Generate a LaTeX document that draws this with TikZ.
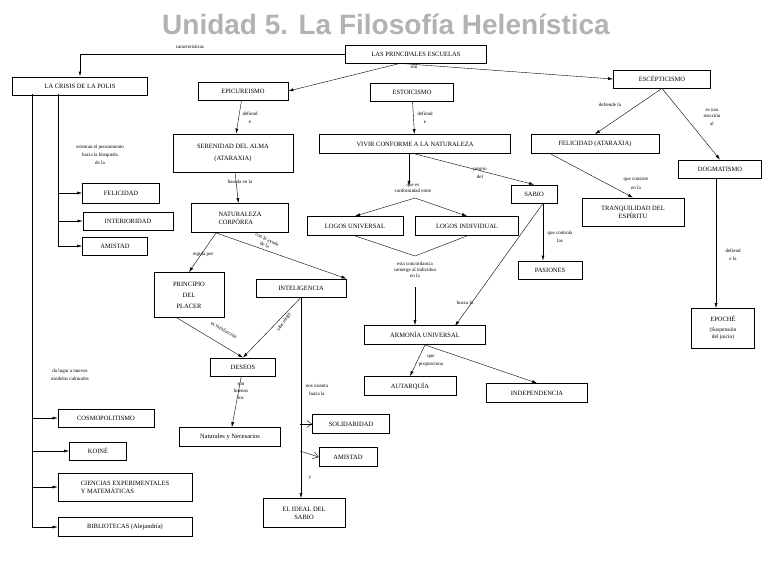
\documentclass[tikz,border=0pt]{standalone}
\usepackage{fontspec}
\setmainfont{Liberation Serif}
\newfontfamily\titlefont{Liberation Sans}
\usetikzlibrary{arrows.meta}
\tikzset{
	caja/.style={draw,thick,inner sep=1pt,align=center,font=\fontsize{6.5}{8}\selectfont},
	etq/.style={inner sep=0.5pt,align=center,font=\fontsize{5}{6}\selectfont},
	flecha/.style={-{Latex[length=5pt,width=3pt]}},
	abierta/.style={-{Straight Barb[length=5pt,width=7pt]}},
}
\begin{document}
\begin{tikzpicture}[x=1pt,y=-1pt]
	\useasboundingbox (0,0) rectangle (768,576);
	\node[font=\titlefont\bfseries\fontsize{28}{28}\selectfont,text=gray!60] (titulo) at (386,24) {Unidad 5. La Filosofía Helenística};
	% cajas
	\node[caja,minimum width=141,minimum height=18] (escuelas) at (416,54) {LAS PRINCIPALES ESCUELAS};
	\node[caja,minimum width=135,minimum height=18] (crisis) at (80,86) {LA CRISIS DE LA POLIS};
	\node[caja,minimum width=90,minimum height=18] (epicureismo) at (243,91) {EPICUREISMO};
	\node[caja,minimum width=83,minimum height=18] (estoicismo) at (412,92) {ESTOICISMO};
	\node[caja,minimum width=97,minimum height=18] (escepticismo) at (662,79) {ESCÉPTICISMO};
	\node[caja,minimum width=120,minimum height=38] (serenidad) at (233,153) {SERENIDAD DEL ALMA\\[4pt](ATARAXIA)};
	\node[caja,minimum width=191,minimum height=19] (vivir) at (415,144) {VIVIR CONFORME A LA NATURALEZA};
	\node[caja,minimum width=128,minimum height=19] (felataraxia) at (595,144) {FELICIDAD (ATARAXIA)};
	\node[caja,minimum width=83,minimum height=18] (dogmatismo) at (720,169) {DOGMATISMO};
	\node[caja,minimum width=77,minimum height=20] (felicidad) at (121,193) {FELICIDAD};
	\node[caja,minimum width=90,minimum height=18] (interioridad) at (128,221) {INTERIORIDAD};
	\node[caja,minimum width=65,minimum height=18] (amistadA) at (115,246) {AMISTAD};
	\node[caja,minimum width=97,minimum height=29,align=left] (naturaleza) at (240,218) {NATURALEZA\\CORPÓREA};
	\node[caja,minimum width=46,minimum height=18] (sabio) at (534,194) {SABIO};
	\node[caja,minimum width=102,minimum height=28] (tranquilidad) at (633,212) {TRANQUILIDAD DEL\\ESPÍRITU};
	\node[caja,minimum width=96,minimum height=19] (logosuni) at (355,226) {LOGOS UNIVERSAL};
	\node[caja,minimum width=103,minimum height=19] (logosind) at (467,226) {LOGOS INDIVIDUAL};
	\node[caja,minimum width=64,minimum height=18] (pasiones) at (550,270) {PASIONES};
	\node[caja,minimum width=70,minimum height=45] (placer) at (189,295) {PRINCIPIO\\[3pt]DEL\\[3pt]PLACER};
	\node[caja,minimum width=90,minimum height=18] (inteligencia) at (301,288) {INTELIGENCIA};
	\node[caja,minimum width=63,minimum height=40] (epoche) at (723,328) {EPOCHÉ\\[2pt]{\fontsize{5.5}{6}\selectfont(Suspensión}\\[-1pt]{\fontsize{5.5}{6}\selectfont del juicio)}};
	\node[caja,minimum width=121,minimum height=19] (armonia) at (425,335) {ARMONÍA UNIVERSAL};
	\node[caja,minimum width=65,minimum height=18] (deseos) at (243,367) {DESEOS};
	\node[caja,minimum width=92,minimum height=19] (autarquia) at (410,386) {AUTARQUÍA};
	\node[caja,minimum width=101,minimum height=19] (independencia) at (537,393) {INDEPENDENCIA};
	\node[caja,minimum width=96,minimum height=18] (cosmo) at (106,418) {COSMOPOLITISMO};
	\node[caja,minimum width=57,minimum height=18] (koine) at (98,451) {KOINÉ};
	\node[caja,minimum width=134,minimum height=28,align=left] (ciencias) at (125,487) {CIENCIAS EXPERIMENTALES\\Y MATEMÁTICAS};
	\node[caja,minimum width=134,minimum height=19] (bibliotecas) at (125,527) {BIBLIOTECAS (Alejandría)};
	\node[caja,minimum width=101,minimum height=19] (naturales) at (230,437) {Naturales y Necesarios};
	\node[caja,minimum width=77,minimum height=19] (solidaridad) at (351,424) {SOLIDARIDAD};
	\node[caja,minimum width=58,minimum height=19] (amistadB) at (348,457) {AMISTAD};
	\node[caja,minimum width=82,minimum height=29] (ideal) at (304,513) {EL IDEAL DEL\\SABIO};
	% puntos auxiliares
	\coordinate (crisisA) at (32,94);
	\coordinate (crisisB) at (58,94);
	\coordinate (conformidad) at (415,198);
	\coordinate (vertice) at (415,256);
	\coordinate (buscala) at (455,326);
	% conectores
	\draw[flecha,thick] (escuelas.west) -| (crisis.north);
	\draw[flecha] (escuelas.south) ++(-16,0) -- (epicureismo.east);
	\draw[flecha] (escuelas.south) ++(-16,0) -- (escepticismo.west);
	\draw[thick] (crisisA) -- (32,527);
	\foreach \n/\y in {cosmo/418,koine/451,ciencias/487,bibliotecas/527}
		\draw[flecha] (32,\y) -- (\n.west);
	\draw[thick] (crisisB) -- (58,246);
	\foreach \n/\y in {felicidad/193,interioridad/221,amistadA/246}
		\draw[flecha] (58,\y) -- (\n.west);
	\draw[flecha] (epicureismo) -- (serenidad);
	\draw[flecha] (serenidad) -- (naturaleza);
	\draw[flecha] (naturaleza.south) ++(-24,0) -- (placer.north);
	\draw[flecha] (naturaleza.south) ++(-24,0) -- (inteligencia.north east);
	\draw[flecha] (placer.south) ++(-12,0) -- (deseos.north);
	\draw[flecha] (inteligencia.south) -- (deseos.north);
	\draw[flecha] (deseos) -- (naturales);
	\draw[flecha] (inteligencia.south) -- (ideal.north -| inteligencia.south);
	\draw[abierta] (300,424) -- (solidaridad.west);
	\draw[abierta] (300,451) -- (amistadB.west);
	\draw[flecha] (estoicismo) -- (vivir);
	\draw[flecha] (vivir.south) ++(-6,0) -- ++(0,32);
	\draw[flecha] (conformidad) -- (logosuni.north);
	\draw[flecha] (conformidad) -- (logosind.north);
	\draw (logosuni.south) -- (vertice) -- (logosind.south);
	\draw[flecha] (415,287) -- (armonia.north -| 415,0);
	\draw[flecha] (vivir.south) -- (sabio.north);
	\draw[flecha] (sabio.south) ++(9,0) -- (buscala);
	\draw[flecha] (543,203) -- (pasiones.north -| 543,0);
	\draw[flecha] (armonia.south) -- (autarquia.north);
	\draw[flecha] (armonia.south) -- (independencia.north);
	\draw[flecha] (escepticismo.south) -- (felataraxia.north);
	\draw[flecha] (escepticismo.south) -- (dogmatismo.north);
	\draw[flecha] (felataraxia.south west) ++(20,0) -- (tranquilidad.north);
	\draw[flecha] (716,178) -- (716,308);
	% etiquetas
	\node[etq] (e1) at (190,47) {características};
	\node[etq] (e2) at (414,67) {son};
	\node[etq] (e3) at (100,155) {orientan el pensamiento\\[2pt]hacia la búsqueda\\[2pt]de la};
	\node[etq] (e4) at (70,375) {da lugar a nuevos\\[2pt]modelos culturales};
	\node[etq] (e5) at (250,118) {defiend\\[2pt]e};
	\node[etq] (e6) at (240,182) {basada en la};
	\node[etq] (e7) at (203,254) {regida por};
	\node[etq,rotate=-25] (e8) at (266,242) {con la ayuda\\de la};
	\node[etq,rotate=-30] (e9) at (224,330) {es satisfacción};
	\node[etq,rotate=55] (e10) at (284,322) {sabe elegir};
	\node[etq] (e11) at (241,391) {son\\[1pt]buenos\\[1pt]los};
	\node[etq] (e12) at (317,390) {nos orienta\\[2pt]hacia la};
	\node[etq] (e13) at (310,478) {y};
	\node[etq] (e14) at (425,118) {defiend\\[2pt]e};
	\node[etq] (e15) at (413,188) {que es\\conformidad entre};
	\node[etq] (e16) at (480,173) {propio\\[2pt]del};
	\node[etq] (e17) at (415,270) {esta concordancia\\sumerge al individuo\\en la};
	\node[etq] (e18) at (465,303) {busca la};
	\node[etq] (e19) at (560,237) {que controla\\[2pt]las};
	\node[etq] (e20) at (431,361) {que\\[2pt]proporciona};
	\node[etq] (e21) at (610,105) {defiende la};
	\node[etq] (e22) at (712,117) {es una\\reacción\\[2pt]al};
	\node[etq] (e23) at (636,183) {que consiste\\[3pt]en la};
	\node[etq] (e24) at (733,255) {defiend\\[2pt]e la};
\end{tikzpicture}
\end{document}
